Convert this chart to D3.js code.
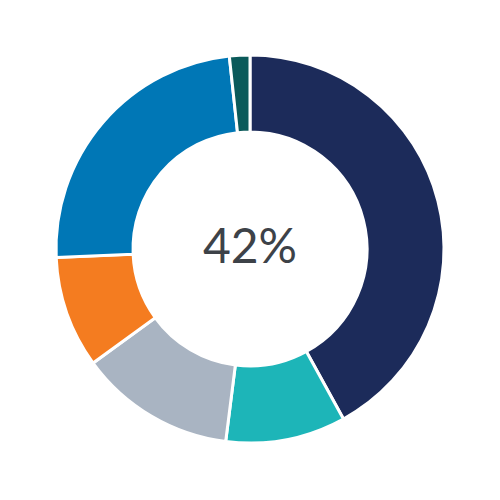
<!DOCTYPE html>
<html>
<head>
<meta charset="utf-8">
<script src="https://d3js.org/d3.v7.min.js"></script>
<style>
  html, body { margin: 0; padding: 0; background: #fff; }
</style>
</head>
<body>
<svg id="chart" width="500" height="500"></svg>
<script>
// Slice data (percent), clockwise from 12 o'clock
const categories = ["A", "B", "C", "D", "E", "F"];
const values = [42, 10, 13, 9.3, 24, 1.7];
const colors = ["#1c2b5a", "#1db5b8", "#a9b4c2", "#f47c20", "#0077b6", "#0b5a5a"];
const centerLabel = "42%";

const width = 500, height = 500;
const cx = 250, cy = 249;
const outerR = 194, innerR = 117;

const svg = d3.select("#chart");
const g = svg.append("g").attr("transform", `translate(${cx},${cy})`);

const pie = d3.pie().sort(null).value(d => d.value);
const arc = d3.arc().innerRadius(innerR).outerRadius(outerR);

const data = categories.map((c, i) => ({ name: c, value: values[i], color: colors[i] }));

g.selectAll("path")
  .data(pie(data))
  .enter()
  .append("path")
  .attr("d", arc)
  .attr("fill", d => d.data.color)
  .attr("stroke", "#fff")
  .attr("stroke-width", 3);

g.append("text")
  .attr("x", 0)
  .attr("y", 14)
  .attr("text-anchor", "middle")
  .attr("font-family", "Lato, 'Open Sans', sans-serif")
  .attr("font-size", "48px")
  .attr("fill", "#3d4248")
  .text(centerLabel);
</script>
</body>
</html>
